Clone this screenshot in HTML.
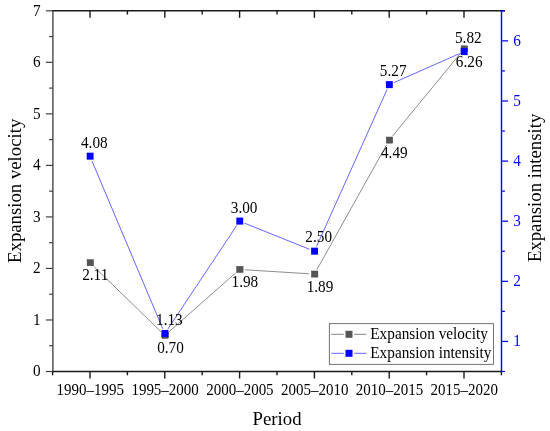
<!DOCTYPE html>
<html lang="en"><head><meta charset="utf-8"><title>Expansion velocity and intensity</title>
<style>html,body{margin:0;padding:0;background:#fff}svg{display:block}text{font-family:"Liberation Serif","Times New Roman",serif}</style></head><body>
<svg width="550" height="431" viewBox="0 0 550 431">
<rect width="550" height="431" fill="#fff"/>
<line x1="93.73" y1="266.40" x2="161.07" y2="331.81" stroke="#787878" stroke-width="0.85"/>
<line x1="168.70" y1="331.99" x2="235.70" y2="272.91" stroke="#787878" stroke-width="0.85"/>
<line x1="244.79" y1="269.80" x2="309.21" y2="273.79" stroke="#787878" stroke-width="0.85"/>
<line x1="316.93" y1="269.57" x2="386.67" y2="144.68" stroke="#787878" stroke-width="0.85"/>
<line x1="392.50" y1="136.12" x2="460.70" y2="52.95" stroke="#787878" stroke-width="0.85"/>
<rect x="87.10" y="259.67" width="6.4" height="6.1" fill="#555555" stroke="#444444" stroke-width="0.5"/>
<rect x="161.90" y="332.33" width="6.4" height="6.1" fill="#555555" stroke="#444444" stroke-width="0.5"/>
<rect x="236.70" y="266.37" width="6.4" height="6.1" fill="#555555" stroke="#444444" stroke-width="0.5"/>
<rect x="311.50" y="271.01" width="6.4" height="6.1" fill="#555555" stroke="#444444" stroke-width="0.5"/>
<rect x="386.30" y="137.04" width="6.4" height="6.1" fill="#555555" stroke="#444444" stroke-width="0.5"/>
<rect x="461.10" y="45.83" width="6.4" height="6.1" fill="#555555" stroke="#444444" stroke-width="0.5"/>
<line x1="92.02" y1="161.07" x2="162.78" y2="328.84" stroke="#5252ff" stroke-width="0.88"/>
<line x1="167.68" y1="329.30" x2="236.72" y2="225.54" stroke="#5252ff" stroke-width="0.88"/>
<line x1="244.42" y1="223.15" x2="309.58" y2="249.33" stroke="#5252ff" stroke-width="0.88"/>
<line x1="316.53" y1="246.52" x2="387.07" y2="89.49" stroke="#5252ff" stroke-width="0.88"/>
<line x1="393.96" y1="82.64" x2="459.24" y2="53.78" stroke="#5252ff" stroke-width="0.88"/>
<rect x="86.70" y="152.68" width="6.9" height="7" fill="#0000ff"/>
<rect x="161.50" y="330.03" width="6.9" height="7" fill="#0000ff"/>
<rect x="236.30" y="217.61" width="6.9" height="7" fill="#0000ff"/>
<rect x="311.10" y="247.67" width="6.9" height="7" fill="#0000ff"/>
<rect x="385.90" y="81.14" width="6.9" height="7" fill="#0000ff"/>
<rect x="460.70" y="48.08" width="6.9" height="7" fill="#0000ff"/>
<text transform="translate(95.20,279.97) scale(1,1.05)" font-size="15.25" text-anchor="middle" fill="#000">2.11</text>
<text transform="translate(170.50,352.63) scale(1,1.05)" font-size="15.25" text-anchor="middle" fill="#000">0.70</text>
<text transform="translate(244.90,286.67) scale(1,1.05)" font-size="15.25" text-anchor="middle" fill="#000">1.98</text>
<text transform="translate(320.00,291.71) scale(1,1.05)" font-size="15.25" text-anchor="middle" fill="#000">1.89</text>
<text transform="translate(394.30,158.24) scale(1,1.05)" font-size="15.25" text-anchor="middle" fill="#000">4.49</text>
<text transform="translate(469.20,66.73) scale(1,1.05)" font-size="15.25" text-anchor="middle" fill="#000">6.26</text>
<text transform="translate(94.30,147.78) scale(1,1.05)" font-size="15.25" text-anchor="middle" fill="#000">4.08</text>
<text transform="translate(169.40,324.53) scale(1,1.05)" font-size="15.25" text-anchor="middle" fill="#000">1.13</text>
<text transform="translate(244.10,212.91) scale(1,1.05)" font-size="15.25" text-anchor="middle" fill="#000">3.00</text>
<text transform="translate(318.70,242.42) scale(1,1.05)" font-size="15.25" text-anchor="middle" fill="#000">2.50</text>
<text transform="translate(393.20,75.64) scale(1,1.05)" font-size="15.25" text-anchor="middle" fill="#000">5.27</text>
<text transform="translate(468.30,42.88) scale(1,1.05)" font-size="15.25" text-anchor="middle" fill="#000">5.82</text>
<g stroke="#1a1a1a" stroke-width="1.4" fill="none">
<line x1="52.90" y1="10.05" x2="52.90" y2="372.25" stroke="#333333" stroke-width="1.25"/>
<line x1="52.90" y1="371.50" x2="501.50" y2="371.50"/>
<line x1="52.90" y1="10.80" x2="505.00" y2="10.80"/>
<line x1="45.90" y1="371.50" x2="52.90" y2="371.50" stroke="#3a3a3a" stroke-width="1.15"/>
<line x1="49.10" y1="345.74" x2="52.90" y2="345.74" stroke="#3a3a3a" stroke-width="1.15"/>
<line x1="45.90" y1="319.97" x2="52.90" y2="319.97" stroke="#3a3a3a" stroke-width="1.15"/>
<line x1="49.10" y1="294.21" x2="52.90" y2="294.21" stroke="#3a3a3a" stroke-width="1.15"/>
<line x1="45.90" y1="268.44" x2="52.90" y2="268.44" stroke="#3a3a3a" stroke-width="1.15"/>
<line x1="49.10" y1="242.68" x2="52.90" y2="242.68" stroke="#3a3a3a" stroke-width="1.15"/>
<line x1="45.90" y1="216.91" x2="52.90" y2="216.91" stroke="#3a3a3a" stroke-width="1.15"/>
<line x1="49.10" y1="191.15" x2="52.90" y2="191.15" stroke="#3a3a3a" stroke-width="1.15"/>
<line x1="45.90" y1="165.39" x2="52.90" y2="165.39" stroke="#3a3a3a" stroke-width="1.15"/>
<line x1="49.10" y1="139.62" x2="52.90" y2="139.62" stroke="#3a3a3a" stroke-width="1.15"/>
<line x1="45.90" y1="113.86" x2="52.90" y2="113.86" stroke="#3a3a3a" stroke-width="1.15"/>
<line x1="49.10" y1="88.09" x2="52.90" y2="88.09" stroke="#3a3a3a" stroke-width="1.15"/>
<line x1="45.90" y1="62.33" x2="52.90" y2="62.33" stroke="#3a3a3a" stroke-width="1.15"/>
<line x1="49.10" y1="36.56" x2="52.90" y2="36.56" stroke="#3a3a3a" stroke-width="1.15"/>
<line x1="45.90" y1="10.80" x2="52.90" y2="10.80" stroke="#3a3a3a" stroke-width="1.15"/>
<line x1="90.00" y1="371.50" x2="90.00" y2="378.50"/>
<line x1="90.00" y1="10.80" x2="90.00" y2="17.80"/>
<line x1="164.80" y1="371.50" x2="164.80" y2="378.50"/>
<line x1="164.80" y1="10.80" x2="164.80" y2="17.80"/>
<line x1="239.60" y1="371.50" x2="239.60" y2="378.50"/>
<line x1="239.60" y1="10.80" x2="239.60" y2="17.80"/>
<line x1="314.40" y1="371.50" x2="314.40" y2="378.50"/>
<line x1="314.40" y1="10.80" x2="314.40" y2="17.80"/>
<line x1="389.20" y1="371.50" x2="389.20" y2="378.50"/>
<line x1="389.20" y1="10.80" x2="389.20" y2="17.80"/>
<line x1="464.00" y1="371.50" x2="464.00" y2="378.50"/>
<line x1="464.00" y1="10.80" x2="464.00" y2="17.80"/>
<line x1="52.60" y1="371.50" x2="52.60" y2="375.30"/>
<line x1="127.40" y1="371.50" x2="127.40" y2="375.30"/>
<line x1="127.40" y1="10.80" x2="127.40" y2="14.60"/>
<line x1="202.20" y1="371.50" x2="202.20" y2="375.30"/>
<line x1="202.20" y1="10.80" x2="202.20" y2="14.60"/>
<line x1="277.00" y1="371.50" x2="277.00" y2="375.30"/>
<line x1="277.00" y1="10.80" x2="277.00" y2="14.60"/>
<line x1="351.80" y1="371.50" x2="351.80" y2="375.30"/>
<line x1="351.80" y1="10.80" x2="351.80" y2="14.60"/>
<line x1="426.60" y1="371.50" x2="426.60" y2="375.30"/>
<line x1="426.60" y1="10.80" x2="426.60" y2="14.60"/>
<line x1="501.40" y1="371.50" x2="501.40" y2="375.30"/>
</g>
<g stroke="#0000ff" stroke-width="1.4" fill="none">
<line x1="501.50" y1="10.05" x2="501.50" y2="372.25"/>
<line x1="501.50" y1="371.50" x2="504.90" y2="371.50" stroke-width="1.25"/>
<line x1="501.50" y1="341.44" x2="508.10" y2="341.44" stroke-width="1.25"/>
<line x1="501.50" y1="311.38" x2="504.90" y2="311.38" stroke-width="1.25"/>
<line x1="501.50" y1="281.32" x2="508.10" y2="281.32" stroke-width="1.25"/>
<line x1="501.50" y1="251.27" x2="504.90" y2="251.27" stroke-width="1.25"/>
<line x1="501.50" y1="221.21" x2="508.10" y2="221.21" stroke-width="1.25"/>
<line x1="501.50" y1="191.15" x2="504.90" y2="191.15" stroke-width="1.25"/>
<line x1="501.50" y1="161.09" x2="508.10" y2="161.09" stroke-width="1.25"/>
<line x1="501.50" y1="131.03" x2="504.90" y2="131.03" stroke-width="1.25"/>
<line x1="501.50" y1="100.98" x2="508.10" y2="100.98" stroke-width="1.25"/>
<line x1="501.50" y1="70.92" x2="504.90" y2="70.92" stroke-width="1.25"/>
<line x1="501.50" y1="40.86" x2="508.10" y2="40.86" stroke-width="1.25"/>
<line x1="501.50" y1="10.80" x2="504.90" y2="10.80" stroke-width="1.25"/>
</g>
<text transform="translate(40.6,376.30) scale(1,1.05)" font-size="15.25" text-anchor="end" fill="#000">0</text>
<text transform="translate(40.6,324.77) scale(1,1.05)" font-size="15.25" text-anchor="end" fill="#000">1</text>
<text transform="translate(40.6,273.24) scale(1,1.05)" font-size="15.25" text-anchor="end" fill="#000">2</text>
<text transform="translate(40.6,221.71) scale(1,1.05)" font-size="15.25" text-anchor="end" fill="#000">3</text>
<text transform="translate(40.6,170.19) scale(1,1.05)" font-size="15.25" text-anchor="end" fill="#000">4</text>
<text transform="translate(40.6,118.66) scale(1,1.05)" font-size="15.25" text-anchor="end" fill="#000">5</text>
<text transform="translate(40.6,67.13) scale(1,1.05)" font-size="15.25" text-anchor="end" fill="#000">6</text>
<text transform="translate(40.6,15.60) scale(1,1.05)" font-size="15.25" text-anchor="end" fill="#000">7</text>
<text transform="translate(513.2,346.44) scale(1,1.05)" font-size="15.25" text-anchor="start" fill="#0000ff">1</text>
<text transform="translate(513.2,286.32) scale(1,1.05)" font-size="15.25" text-anchor="start" fill="#0000ff">2</text>
<text transform="translate(513.2,226.21) scale(1,1.05)" font-size="15.25" text-anchor="start" fill="#0000ff">3</text>
<text transform="translate(513.2,166.09) scale(1,1.05)" font-size="15.25" text-anchor="start" fill="#0000ff">4</text>
<text transform="translate(513.2,105.98) scale(1,1.05)" font-size="15.25" text-anchor="start" fill="#0000ff">5</text>
<text transform="translate(513.2,45.86) scale(1,1.05)" font-size="15.25" text-anchor="start" fill="#0000ff">6</text>
<text transform="translate(90.30,395.3) scale(1,1.07)" font-size="15" text-anchor="middle" fill="#000">1990–1995</text>
<text transform="translate(165.10,395.3) scale(1,1.07)" font-size="15" text-anchor="middle" fill="#000">1995–2000</text>
<text transform="translate(239.90,395.3) scale(1,1.07)" font-size="15" text-anchor="middle" fill="#000">2000–2005</text>
<text transform="translate(314.70,395.3) scale(1,1.07)" font-size="15" text-anchor="middle" fill="#000">2005–2010</text>
<text transform="translate(389.50,395.3) scale(1,1.07)" font-size="15" text-anchor="middle" fill="#000">2010–2015</text>
<text transform="translate(464.30,395.3) scale(1,1.07)" font-size="15" text-anchor="middle" fill="#000">2015–2020</text>
<text x="277.1" y="425.2" font-size="18.75"text-anchor="middle" fill="#000">Period</text>
<text transform="translate(20.8,190.8) rotate(-90)" font-size="18.75" text-anchor="middle" fill="#000">Expansion velocity</text>
<text transform="translate(541.3,187.9) rotate(-90)" font-size="18.75" text-anchor="middle" fill="#000">Expansion intensity</text>
<rect x="329.3" y="323.7" width="164.2" height="40.6" fill="#fff" stroke="#444" stroke-width="0.75"/>
<line x1="331.3" y1="334.30" x2="343.8" y2="334.30" stroke="#757575" stroke-width="0.9"/>
<line x1="354.2" y1="334.30" x2="366.4" y2="334.30" stroke="#757575" stroke-width="0.9"/>
<rect x="345.5" y="330.80" width="7" height="7" fill="#555555"/>
<text transform="translate(370.25,339.30) scale(1,1.025)" font-size="15.3" fill="#000">Expansion velocity</text>
<line x1="331.3" y1="353.30" x2="343.8" y2="353.30" stroke="#5252ff" stroke-width="0.9"/>
<line x1="354.2" y1="353.30" x2="366.4" y2="353.30" stroke="#5252ff" stroke-width="0.9"/>
<rect x="345.5" y="349.80" width="7" height="7" fill="#0000ff"/>
<text transform="translate(370.25,358.30) scale(1,1.025)" font-size="15.3" fill="#000">Expansion intensity</text>
</svg></body></html>
